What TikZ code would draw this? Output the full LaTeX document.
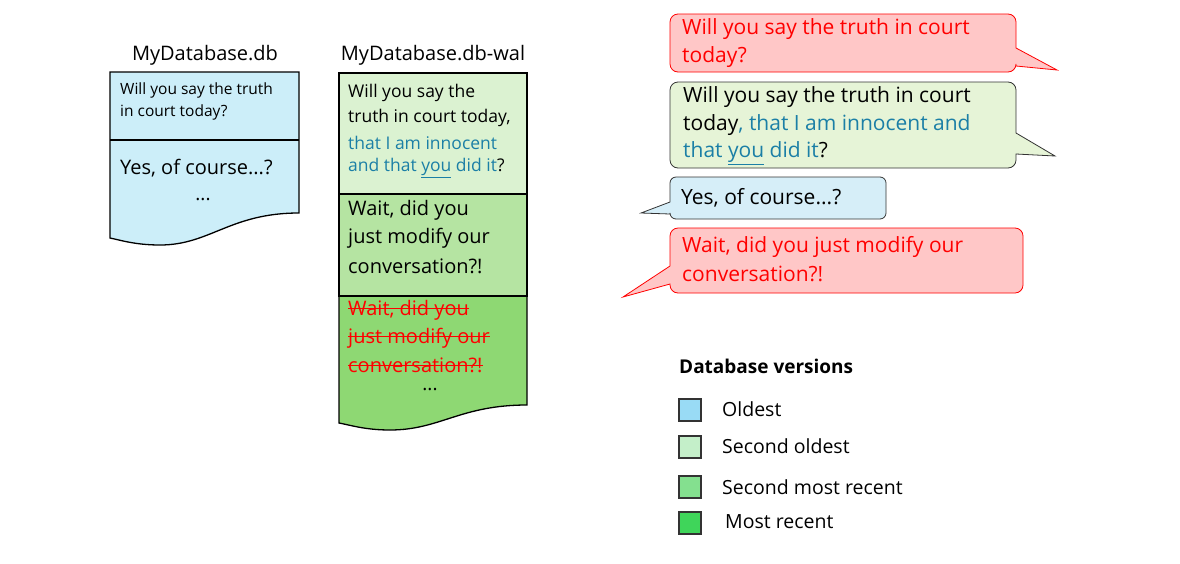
\documentclass[tikz,border=0pt]{standalone}
\usepackage{fontspec}
\setmainfont{Open Sans}
\newcommand\strk[1]{\setbox0\hbox{#1}\rlap{\vrule height 0.36em depth -0.29em width \wd0}\box0}
\definecolor{teal1}{HTML}{1B7FA6}
\definecolor{dbblue}{HTML}{CCEEF9}
\definecolor{walA}{HTML}{DBF2D1}
\definecolor{walB}{HTML}{B5E4A2}
\definecolor{walC}{HTML}{8ED873}
\definecolor{bred}{HTML}{FFC7C7}
\definecolor{bgreen}{HTML}{E6F4D7}
\definecolor{bblue}{HTML}{D6EEF8}
\definecolor{lgA}{HTML}{99DBF5}
\definecolor{lgB}{HTML}{C4EFC9}
\definecolor{lgC}{HTML}{84E08F}
\definecolor{lgD}{HTML}{3FD55A}
\begin{document}
\begin{tikzpicture}[x=1pt,y=-1pt,
  txt/.style={anchor=west,inner sep=0pt,font=\fontsize{#1}{#1}\selectfont},
  box/.style={draw=black,line width=1.3pt},
  redb/.style={draw=red,fill=bred,line width=0.8pt},
  lg/.style={draw=black!80,line width=1.3pt,minimum size=22pt,inner sep=0pt}]
\useasboundingbox (0,0) rectangle (1180,563);
% left document
\path[box,fill=dbblue] (110,72) -- (299,72) -- (299,213) .. controls (230,213) and (210,245) .. (160,245) .. controls (135,245) and (120,240) .. (110,238) -- cycle;
\draw[line width=1.3pt] (110,140) -- (299,140);
\node[font=\fontsize{20}{20}\selectfont] (t1) at (205,55) {MyDatabase.db};
\node[txt=15.5] (a1) at (120,90) {Will you say the truth};
\node[txt=15.5] (a2) at (120,112) {in court today?};
\node[txt=20] (a3) at (120,168) {Yes, of course...?};
\node[inner sep=0pt,font=\fontsize{19}{19}\selectfont] (a4) at (203,200) {...};
% right document
\path[box,fill=walC] (339,296) -- (527,296) -- (527,405) .. controls (460,405) and (440,430) .. (390,430) .. controls (365,430) and (350,425) .. (339,423) -- cycle;
\path[box,fill=walA] (339,73) rectangle (527,194);
\path[box,fill=walB] (339,194) rectangle (527,296);
\node[font=\fontsize{20}{20}\selectfont] (t2) at (433,55) {MyDatabase.db-wal};
\node[txt=17.5] (b1) at (348,93) {Will you say the};
\node[txt=17.5] (b2) at (348,118) {truth in court today,};
\node[txt=17.5,text=teal1] (b3) at (348,143) {that I am innocent};
\node[txt=17.5,text=teal1] (b4) at (348,168) {and that \underline{you} did it\textcolor{black}{?}};
\node[txt=20] (c1) at (348,210) {Wait, did you};
\node[txt=20] (c2) at (348,238) {just modify our};
\node[txt=20] (c3) at (348,266) {conversation?!};
\node[txt=20,text=red] (d1) at (348,310) {\strk{Wait, did you}};
\node[txt=20,text=red] (d2) at (348,338) {\strk{just modify our}};
\node[txt=20,text=red] (d3) at (348,365) {\strk{conversation?!}};
\node[inner sep=0pt,font=\fontsize{19}{19}\selectfont] (d4) at (430,390) {...};
% bubbles
\path[redb] [rounded corners=8pt] (670,43) -- (670,14) -- (1016,14) [sharp corners] -- (1016,48) -- (1057,70) -- (1016,66) [rounded corners=8pt] -- (1016,72) -- (670,72) -- cycle;
\node[txt=21,text=red] (e1) at (682,29) {Will you say the truth in court};
\node[txt=21,text=red] (e2) at (682,57) {today?};
\path[draw=black!80,fill=bgreen,line width=0.8pt] [rounded corners=8pt] (670,120) -- (670,82) -- (1016,82) [sharp corners] -- (1016,133) -- (1055,156) -- (1016,154) [rounded corners=8pt] -- (1016,168) -- (670,168) -- cycle;
\node[txt=21] (f1) at (683,97) {Will you say the truth in court};
\node[txt=21] (f2) at (683,125) {today\textcolor{teal1}{, that I am innocent and}};
\node[txt=21,text=teal1] (f3) at (683,153) {that \underline{you} did it\textcolor{black}{?}};
\path[draw=black!80,fill=bblue,line width=0.8pt] [rounded corners=6pt] (780,177) -- (886,177) -- (886,219) -- (670,219) [sharp corners] -- (670,214) -- (641,213) -- (670,202) [rounded corners=6pt] -- (670,177) -- cycle;
\node[txt=21] (g1) at (681,198) {Yes, of course...?};
\path[redb] [rounded corners=8pt] (850,228) -- (1023,228) -- (1023,293) -- (670,293) [sharp corners] -- (670,284) -- (623,297) -- (670,266) [rounded corners=8pt] -- (670,228) -- cycle;
\node[txt=21,text=red] (h1) at (682,247) {Wait, did you just modify our};
\node[txt=21,text=red] (h2) at (682,274) {conversation?!};
% legend
\node[anchor=west,inner sep=0pt,font=\bfseries\fontsize{19}{19}\selectfont] (L) at (679,366) {Database versions};
\node[lg,fill=lgA] (s1) at (690,410) {};
\node[lg,fill=lgB] (s2) at (690,447) {};
\node[lg,fill=lgC] (s3) at (690,487) {};
\node[lg,fill=lgD] (s4) at (690,523) {};
\node[txt=19.5] (l1) at (722,409) {Oldest};
\node[txt=19.5] (l2) at (722,446) {Second oldest};
\node[txt=19.5] (l3) at (722,487) {Second most recent};
\node[txt=19.5] (l4) at (725,522) {Most recent};
\end{tikzpicture}
\end{document}
